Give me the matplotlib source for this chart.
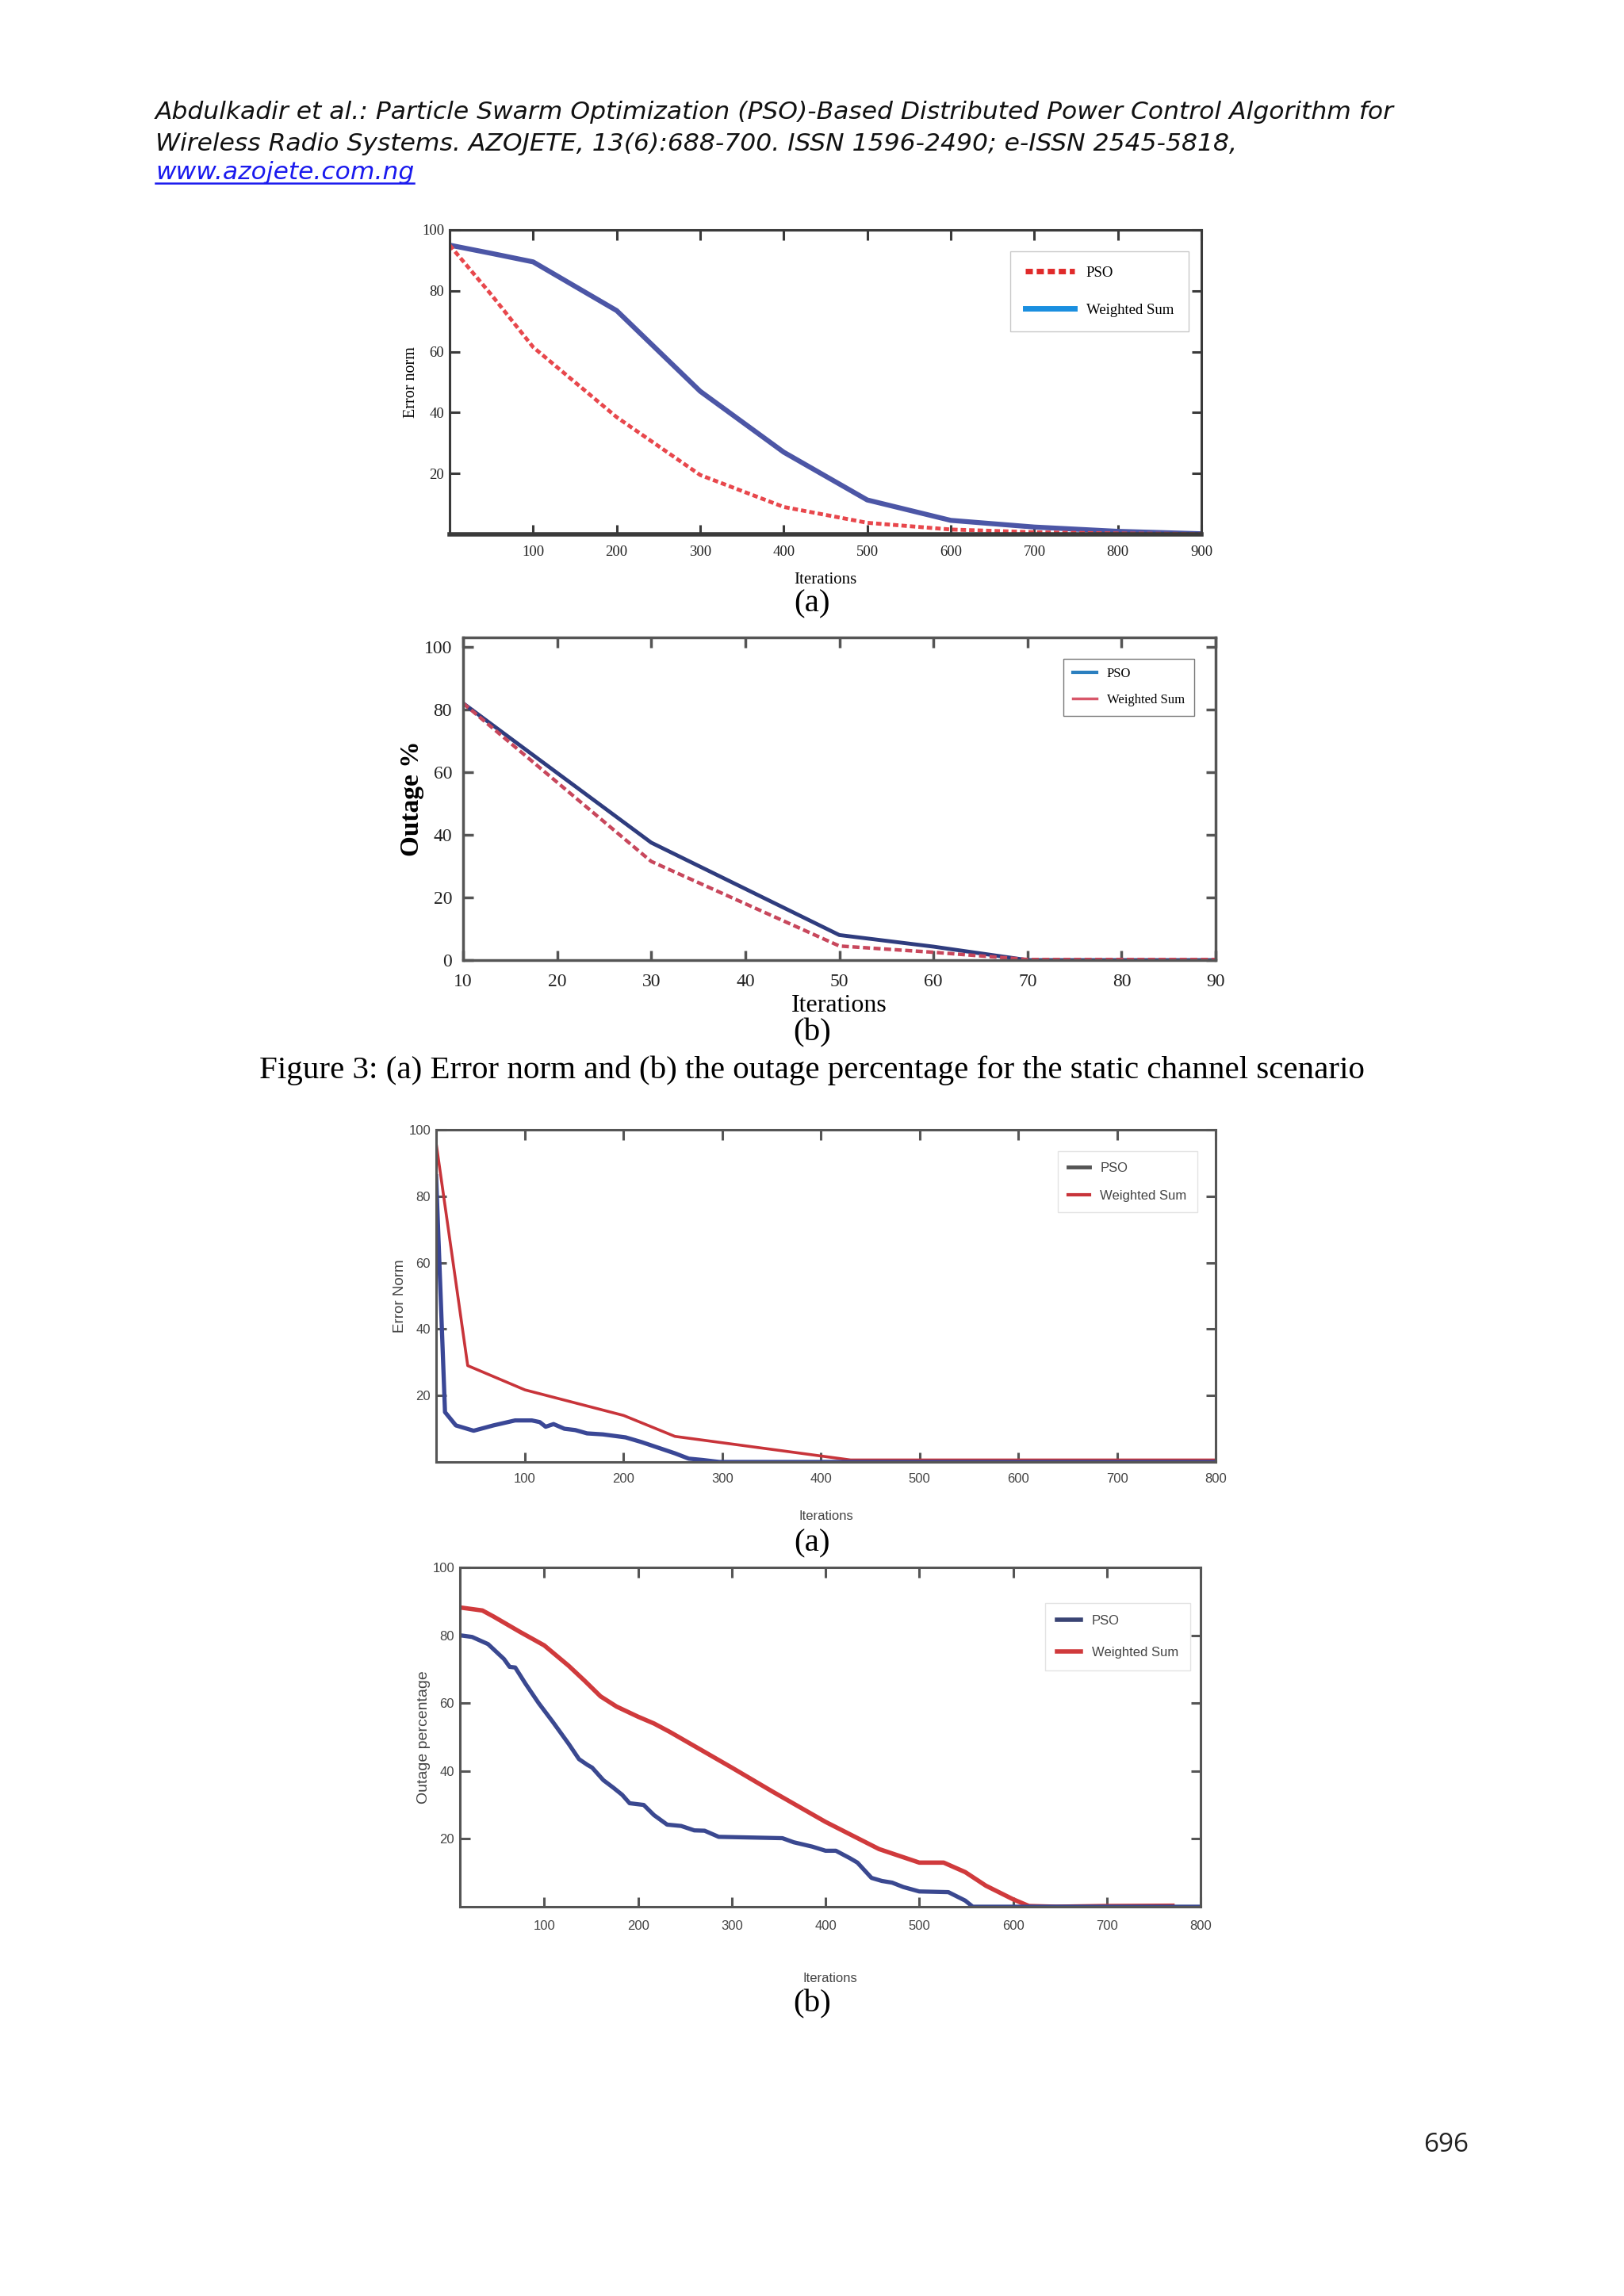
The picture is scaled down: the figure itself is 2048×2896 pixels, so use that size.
import matplotlib
matplotlib.use("Agg")
import matplotlib.pyplot as plt
from matplotlib.lines import Line2D

# ---------------- data ----------------
# Panel 1 (Fig 3a): error norm, static channel
p1_x = [0, 50, 100, 200, 300, 400, 500, 600, 700, 800, 900]
p1_ws = [95, 92.3, 89.5, 73.5, 47, 27, 11.3, 4.6, 2.4, 1.0, 0.2]
p1_pso = [95, 78.7, 61.5, 38.5, 19.5, 9, 3.8, 1.6, 0.7, 0.3, 0.1]

# Panel 2 (Fig 3b): outage %, static channel
p2_x = [10, 30, 50, 60, 70, 80, 90]
p2_pso = [82, 37.5, 8, 4.3, 0, 0, 0]
p2_ws = [82, 31.5, 4.5, 2.5, 0.2, 0.2, 0.2]

# Panel 3 (Fig 4a): error norm
p3_ws_x = [10, 42, 100, 200, 252, 420, 430, 800]
p3_ws = [96, 29, 21.7, 14, 7.7, 1.0, 0.6, 0.6]
p3_pso_x = [10, 19, 30, 48, 68, 90, 107, 115, 121, 129, 140, 151, 163, 179,
            202, 218, 235, 252, 266, 280, 297, 800]
p3_pso = [86, 15, 11, 9.4, 11, 12.5, 12.5, 12, 10.6, 11.4, 10, 9.6, 8.6, 8.3,
          7.4, 6, 4.3, 2.6, 1, 0.6, 0, 0]

# Panel 4 (Fig 4b): outage percentage
p4_ws_x = [10, 34, 46, 74, 100, 126, 143, 160, 177, 200, 217, 234, 300, 343,
           400, 457, 500, 526, 549, 571, 600, 617, 646, 697, 770]
p4_ws = [88.2, 87.3, 85.5, 81, 77, 71, 66.6, 62, 59, 56, 54, 51.5, 41, 34,
         25, 17, 13, 13, 10.2, 6.2, 2.2, 0.2, 0, 0.2, 0.3]
p4_pso_x = [10, 23, 40, 57, 63, 69, 80, 94, 109, 126, 137, 146, 151, 163, 174,
            183, 191, 206, 217, 231, 246, 260, 271, 286, 354, 366, 386, 400,
            411, 426, 434, 449, 460, 471, 483, 500, 531, 549, 557, 800]
p4_pso = [80, 79.5, 77.4, 73, 70.7, 70.5, 65.7, 60, 54.5, 48, 43.5, 41.8, 41,
          37.3, 35, 33, 30.5, 30, 27, 24.2, 23.8, 22.5, 22.4, 20.6, 20.2, 19,
          17.7, 16.5, 16.5, 14.3, 13, 8.5, 7.6, 7.1, 5.8, 4.5, 4.3, 1.8, 0, 0]

ticks_900 = [100, 200, 300, 400, 500, 600, 700, 800, 900]
ticks_800 = [100, 200, 300, 400, 500, 600, 700, 800]
yticks_20 = [20, 40, 60, 80, 100]
p2_xticks = [10, 20, 30, 40, 50, 60, 70, 80, 90]
p2_yticks = [0, 20, 40, 60, 80, 100]

header_lines = [
    "Abdulkadir et al.: Particle Swarm Optimization (PSO)-Based Distributed Power Control Algorithm for",
    "Wireless Radio Systems. AZOJETE, 13(6):688-700. ISSN 1596-2490; e-ISSN 2545-5818,",
]
header_link = "www.azojete.com.ng"
caption = "Figure 3: (a) Error norm and (b) the outage percentage for the static channel scenario"

# ---------------- figure ----------------
W, H = 2048, 2896
fig = plt.figure(figsize=(W / 100, H / 100), dpi=100)
fig.patch.set_facecolor("white")

SERIF = "Liberation Serif"
SANS = "Liberation Sans"


def add_ax(l, t, r, b):
    return fig.add_axes([l / W, 1 - b / H, (r - l) / W, (b - t) / H])


def style(ax, spine_color, lw, tick_len, labsize, family, labcolor, xpad, ypad):
    for s in ax.spines.values():
        s.set_color(spine_color)
        s.set_linewidth(lw)
    ax.tick_params(direction="in", top=True, right=True, length=tick_len,
                   width=lw, color=spine_color, labelsize=labsize,
                   labelcolor=labcolor)
    ax.tick_params(axis="x", pad=xpad)
    ax.tick_params(axis="y", pad=ypad)
    for lab in ax.get_xticklabels() + ax.get_yticklabels():
        lab.set_family(family)


# ---- Panel 1 ----
ax1 = add_ax(567, 290, 1515, 674)
ax1.plot(p1_x, p1_ws, color="#4c56a6", lw=4.5, solid_capstyle="round")
ax1.plot(p1_x, p1_pso, color="#e8474c", lw=3.5, ls=(0, (1.4, 0.8)))
ax1.set_xlim(0, 900)
ax1.set_ylim(0, 100)
ax1.set_xticks(ticks_900)
ax1.set_yticks(yticks_20)
style(ax1, "#3a3a3a", 2.2, 9, 13.5, SERIF, "#222222", 10, 5)
ax1.spines["bottom"].set_linewidth(4)
ax1.set_xlabel("Iterations", family=SERIF, fontsize=15, labelpad=12)
ax1.set_ylabel("Error norm", family=SERIF, fontsize=14.5, labelpad=3)
h1 = [Line2D([], [], color="#e02a2a", lw=5, ls=(0, (1.3, 0.7))),
      Line2D([], [], color="#1a8fe0", lw=5)]
ax1.legend(h1, ["PSO", "Weighted Sum"], loc="upper right",
           bbox_to_anchor=(0.993, 0.955), prop={"family": SERIF, "size": 13.5},
           fancybox=False, edgecolor="#bbbbbb", handlelength=3.3,
           labelspacing=1.6, borderpad=1.0)

# ---- Panel 2 ----
ax2 = add_ax(584, 804, 1533, 1211)
ax2.plot(p2_x, p2_pso, color="#2f3c7e", lw=3.5)
ax2.plot(p2_x, p2_ws, color="#c8475c", lw=3.2, ls=(0, (2, 1)))
ax2.set_xlim(10, 90)
ax2.set_ylim(0, 103)
ax2.set_xticks(p2_xticks)
ax2.set_yticks(p2_yticks)
style(ax2, "#555555", 2.5, 9, 17, SERIF, "#222222", 12, 10)
ax2.set_xlabel("Iterations", family=SERIF, fontsize=23, labelpad=4)
ax2.set_ylabel("Outage %", family=SERIF, fontsize=24, fontweight="bold",
               labelpad=0)
h2 = [Line2D([], [], color="#2b7fbf", lw=3),
      Line2D([], [], color="#d8576a", lw=2.5)]
ax2.legend(h2, ["PSO", "Weighted Sum"], loc="upper right",
           bbox_to_anchor=(0.98, 0.955), prop={"family": SERIF, "size": 12},
           fancybox=False, edgecolor="#555555", handlelength=1.8,
           labelspacing=1.0, borderpad=0.7)

# ---- Panel 3 ----
ax3 = add_ax(550, 1425, 1533, 1844)
ax3.plot(p3_ws_x, p3_ws, color="#c8343a", lw=2.6)
ax3.plot(p3_pso_x, p3_pso, color="#3a4796", lw=3.8)
ax3.set_xlim(10, 800)
ax3.set_ylim(0, 100)
ax3.set_xticks(ticks_800)
ax3.set_yticks(yticks_20)
style(ax3, "#555555", 2.2, 9, 12, SANS, "#444444", 10, 5)
ax3.set_xlabel("Iterations", family=SANS, fontsize=12, color="#444444",
               labelpad=23)
ax3.set_ylabel("Error Norm", family=SANS, fontsize=13.5, color="#444444",
               labelpad=2)
h3 = [Line2D([], [], color="#555555", lw=3.5),
      Line2D([], [], color="#c8343a", lw=3)]
ax3.legend(h3, ["PSO", "Weighted Sum"], loc="upper right",
           bbox_to_anchor=(0.985, 0.955), prop={"family": SANS, "size": 12},
           fancybox=False, edgecolor="#dddddd", handlelength=1.6,
           labelspacing=1.2, borderpad=0.8, labelcolor="#444444")

# ---- Panel 4 ----
ax4 = add_ax(580, 1977, 1514, 2405)
ax4.plot(p4_ws_x, p4_ws, color="#d03a3c", lw=4)
ax4.plot(p4_pso_x, p4_pso, color="#3a4890", lw=3.8)
ax4.set_xlim(10, 800)
ax4.set_ylim(0, 100)
ax4.set_xticks(ticks_800)
ax4.set_yticks(yticks_20)
style(ax4, "#555555", 2.2, 9, 12, SANS, "#444444", 12, 5)
ax4.set_xlabel("Iterations", family=SANS, fontsize=12, color="#444444",
               labelpad=37)
ax4.set_ylabel("Outage percentage", family=SANS, fontsize=14, color="#444444",
               labelpad=2)
h4 = [Line2D([], [], color="#3a4474", lw=4),
      Line2D([], [], color="#d03a3c", lw=4)]
ax4.legend(h4, ["PSO", "Weighted Sum"], loc="upper right",
           bbox_to_anchor=(0.995, 0.915), prop={"family": SANS, "size": 12},
           fancybox=False, edgecolor="#dddddd", handlelength=1.8,
           labelspacing=1.5, borderpad=0.9, labelcolor="#444444")

# ---------------- page text ----------------
hx = 196 / W
HFS = 22.6
for i, line in enumerate(header_lines):
    fig.text(hx, 1 - (142 + 39 * i) / H, line, family="DejaVu Sans",
             style="italic", fontsize=HFS, ha="left", va="center",
             color="#111111")
link = fig.text(hx, 1 - 218 / H, header_link, family="DejaVu Sans",
                style="italic", fontsize=HFS, ha="left", va="center",
                color="#1a1aee")

CFS = 29.5
fig.text(0.5, 1 - 762 / H, "(a)", family=SERIF, fontsize=CFS, ha="center",
         va="center")
fig.text(0.5, 1 - 1303 / H, "(b)", family=SERIF, fontsize=CFS, ha="center",
         va="center")
fig.text(0.5, 1 - 1350 / H, caption, family=SERIF, fontsize=CFS, ha="center",
         va="center")
fig.text(0.5, 1 - 1947 / H, "(a)", family=SERIF, fontsize=CFS, ha="center",
         va="center")
fig.text(0.5, 1 - 2528 / H, "(b)", family=SERIF, fontsize=CFS, ha="center",
         va="center")
fig.text(1824 / W, 1 - 2705 / H, "696", family="Open Sans", fontsize=24,
         ha="center", va="center", color="#222222")

# underline for the link
fig.canvas.draw()
bb = link.get_window_extent()
fig.add_artist(Line2D([bb.x0 / W, bb.x1 / W], [(bb.y0 + 2) / H, (bb.y0 + 2) / H],
                      transform=fig.transFigure, color="#1a1aee", lw=1.8))

fig.savefig("out.png", dpi=100, facecolor="white")
